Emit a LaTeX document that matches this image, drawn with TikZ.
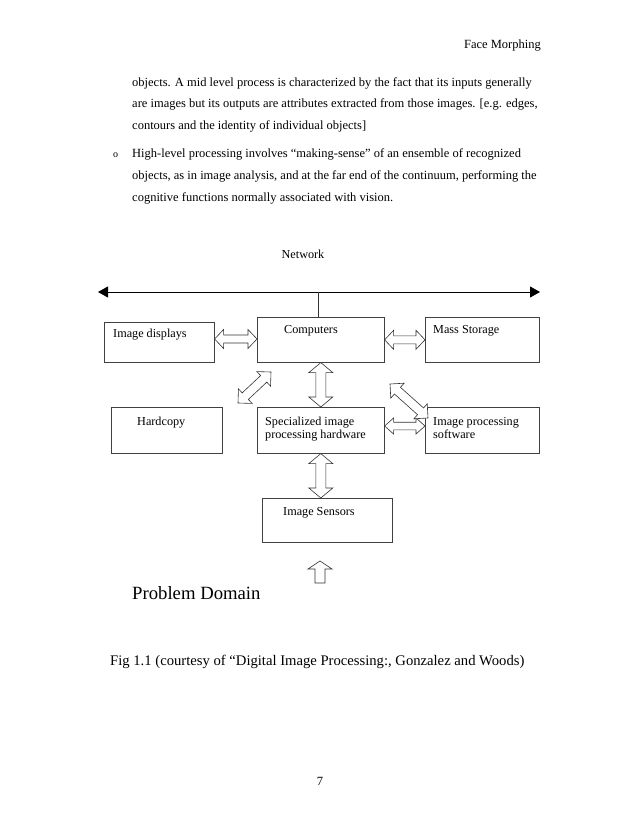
\documentclass[tikz,border=0pt]{standalone}
\usepackage{fontspec}
\setmainfont{Liberation Serif}
\usetikzlibrary{arrows.meta,calc}
\tikzset{
  box/.style={draw=black!75, line width=0.6pt, inner sep=0pt, anchor=north west},
  lbl/.style={inner sep=0pt, font=\fontsize{12.2}{14}\selectfont, anchor=base west},
  body/.style={inner sep=0pt, font=\fontsize{12.5}{15}\selectfont, anchor=base west},
  hollow/.style={draw=black!80, line width=0.6pt, fill=white, line join=miter},
  netline/.style={draw=black, line width=0.8pt},
}
% from, to, head half width, shaft half width, head length
\newcommand\hollowarrow[5]{%
  \draw[hollow] let \p1=(#1), \p2=(#2),
    \n1={atan2(\y2-\y1,\x2-\x1)}, \n2={veclen(\x2-\x1,\y2-\y1)}, \n3={\n2-#5pt} in
    [shift={(\p1)}, rotate=\n1]
    (0pt,0pt) -- (#5pt,#3pt) -- (#5pt,#4pt) -- (\n3,#4pt) -- (\n3,#3pt) --
    (\n2,0pt) -- (\n3,-#3pt) -- (\n3,-#4pt) -- (#5pt,-#4pt) -- (#5pt,-#3pt) -- cycle;}
\begin{document}
\begin{tikzpicture}[x=1pt,y=-1pt]
\useasboundingbox[fill=white] (0,0) rectangle (638,826);

% header and body text
\node[body, anchor=base east] (hdr) at (541,49) {Face Morphing};
\node[body] (t1) at (132,87) {objects. A mid level process is characterized by the fact that its inputs generally};
\node[body] (t2) at (132,108) {are images but its outputs are attributes extracted from those images. [e.g. edges,};
\node[body] (t3) at (132,130) {contours and the identity of individual objects]};
\node[body, font=\fontsize{10}{12}\selectfont] (bul) at (113,158) {o};
\node[body] (t4) at (132,158) {High-level processing involves “making-sense” of an ensemble of recognized};
\node[body] (t5) at (132,180) {objects, as in image analysis, and at the far end of the continuum, performing the};
\node[body] (t6) at (132,202) {cognitive functions normally associated with vision.};

% network
\node[lbl, anchor=base] (net) at (303,258) {Network};
\coordinate (netL) at (98,292);
\coordinate (netR) at (540,292);
\coordinate (netT) at (318,292);
\draw[netline, {Triangle[length=10pt,width=11pt]}-{Triangle[length=10pt,width=11pt]}] (netL) -- (netR);

% boxes
\node[box, minimum width=110pt, minimum height=40pt] (disp) at (104,322) {};
\node[box, minimum width=127pt, minimum height=45pt] (comp) at (257,317) {};
\node[box, minimum width=114pt, minimum height=45pt] (mass) at (425,317) {};
\node[box, minimum width=111pt, minimum height=46pt] (hard) at (111,407) {};
\node[box, minimum width=127pt, minimum height=46pt] (spec) at (257,407) {};
\node[box, minimum width=114pt, minimum height=46pt] (soft) at (425,407) {};
\node[box, minimum width=130pt, minimum height=44pt] (sens) at (262,498) {};

\draw[draw=black!80, line width=0.6pt] (netT) -- (netT |- comp.north);

% box texts
\node[lbl] (dispt) at (113,337) {Image displays};
\node[lbl, anchor=base] (compt) at (311,333) {Computers};
\node[lbl] (masst) at (433,333) {Mass Storage};
\node[lbl] (hardt) at (137,425) {Hardcopy};
\node[lbl] (spect1) at (265,425) {Specialized image};
\node[lbl] (spect2) at (265,438) {processing hardware};
\node[lbl] (softt1) at (433,425) {Image processing};
\node[lbl] (softt2) at (433,438) {software};
\node[lbl] (senst) at (283,515) {Image Sensors};

% hollow double arrows
\coordinate (a1s) at (disp.east |- 0,339);
\coordinate (a1e) at (comp.west |- 0,339);
\hollowarrow{a1s}{a1e}{9.5}{4}{9}
\hollowarrow{comp.east}{mass.west}{9.5}{4}{9}
\hollowarrow{comp.south}{spec.north}{12}{5}{10}
\coordinate (a4e) at (spec.south |- sens.north);
\hollowarrow{spec.south}{a4e}{12}{5}{10}
\coordinate (a5s) at (spec.east |- 0,426);
\coordinate (a5e) at (soft.west |- 0,426);
\hollowarrow{a5s}{a5e}{8}{3.8}{9}
\coordinate (dl1) at (238,403);
\coordinate (dl2) at (271,372);
\hollowarrow{dl1}{dl2}{10}{4.5}{10}
\coordinate (dr1) at (390,384);
\coordinate (dr2) at (428,418);
\hollowarrow{dr1}{dr2}{10}{4.5}{10}

% single up arrow
\coordinate (upT) at (320,561);
\draw[hollow] (upT) -- ++(12,8) -- ++(-7,0) -- ++(0,14) -- ++(-10,0) -- ++(0,-14) -- ++(-7,0) -- cycle;

% captions
\node[body, font=\fontsize{18.7}{22}\selectfont] (pd) at (132,599) {Problem Domain};
\node[body, font=\fontsize{14.65}{18}\selectfont] (fig) at (110,665) {Fig 1.1 (courtesy of “Digital Image Processing:, Gonzalez and Woods)};
\node[body, anchor=base] (pg) at (320,785) {7};
\end{tikzpicture}
\end{document}
